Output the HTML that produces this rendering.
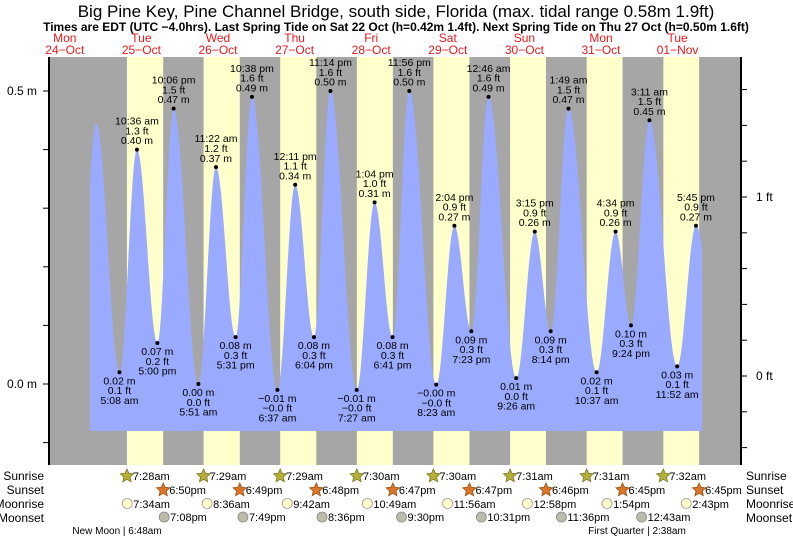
<!DOCTYPE html>
<html><head><meta charset="utf-8"><style>
html,body{margin:0;padding:0;background:#fff}
svg{display:block;font-family:"Liberation Sans",Arial,sans-serif}
</style></head><body>
<svg id="chart" width="793" height="539" viewBox="0 0 793 539" xmlns="http://www.w3.org/2000/svg">
<text x="396" y="17" text-anchor="middle" font-size="17">Big Pine Key, Pine Channel Bridge, south side, Florida (max. tidal range 0.58m 1.9ft)</text>
<text x="396" y="31" text-anchor="middle" font-size="12" font-weight="bold">Times are EDT (UTC −4.0hrs). Last Spring Tide on Sat 22 Oct (h=0.42m 1.4ft). Next Spring Tide on Thu 27 Oct (h=0.50m 1.6ft)</text>
<g id="days"></g>
<g id="plot"></g>
<g id="labels"></g>
<g id="bottom"></g>
</svg>
<script>
// ---- data ----
const dayNames = ["Mon","Tue","Wed","Thu","Fri","Sat","Sun","Mon","Tue"];
const dayDates = ["24\u2212Oct","25\u2212Oct","26\u2212Oct","27\u2212Oct","28\u2212Oct","29\u2212Oct","30\u2212Oct","31\u2212Oct","01\u2212Nov"];
// tide extremes: day offset from Oct 25, time label, height m, ft label
const tideDay = [-1,-1,0,0,0,0,1,1,1,1,2,2,2,2,3,3,3,3,4,4,4,5,5,5,5,6,6,6,6,7,7,7,7];
const tideTime = ["4:20 pm","9:50 pm","5:08 am","10:36 am","5:00 pm","10:06 pm","5:51 am","11:22 am","5:31 pm","10:38 pm","6:37 am","12:11 pm","6:04 pm","11:14 pm","7:27 am","1:04 pm","6:41 pm","11:56 pm","8:23 am","2:04 pm","7:23 pm","12:46 am","9:26 am","3:15 pm","8:14 pm","1:49 am","10:37 am","4:34 pm","9:24 pm","3:11 am","11:52 am","5:45 pm","11:59 pm"];
const tideHeight = [0.06,0.445,0.02,0.40,0.07,0.47,0.00,0.37,0.08,0.49,-0.01,0.34,0.08,0.50,-0.01,0.31,0.08,0.50,-0.001,0.27,0.09,0.49,0.01,0.26,0.09,0.47,0.02,0.26,0.10,0.45,0.03,0.27,0.10];
const tideM = ["","","0.02 m","0.40 m","0.07 m","0.47 m","0.00 m","0.37 m","0.08 m","0.49 m","\u22120.01 m","0.34 m","0.08 m","0.50 m","\u22120.01 m","0.31 m","0.08 m","0.50 m","\u22120.00 m","0.27 m","0.09 m","0.49 m","0.01 m","0.26 m","0.09 m","0.47 m","0.02 m","0.26 m","0.10 m","0.45 m","0.03 m","0.27 m",""];
const tideFt = ["","","0.1 ft","1.3 ft","0.2 ft","1.5 ft","0.0 ft","1.2 ft","0.3 ft","1.6 ft","\u22120.0 ft","1.1 ft","0.3 ft","1.6 ft","\u22120.0 ft","1.0 ft","0.3 ft","1.6 ft","\u22120.0 ft","0.9 ft","0.3 ft","1.6 ft","0.0 ft","0.9 ft","0.3 ft","1.5 ft","0.1 ft","0.9 ft","0.3 ft","1.5 ft","0.1 ft","0.9 ft",""];
const sunrise = ["7:28am","7:29am","7:29am","7:30am","7:30am","7:31am","7:31am","7:32am"];
const sunset = ["6:50pm","6:49pm","6:48pm","6:47pm","6:47pm","6:46pm","6:45pm","6:45pm"];
const moonrise = ["7:34am","8:36am","9:42am","10:49am","11:56am","12:58pm","1:54pm","2:43pm"];
const moonsetDay = [0,1,2,3,4,5,7];
const moonset = ["7:08pm","7:49pm","8:36pm","9:30pm","10:31pm","11:36pm","12:43am"];
const yTicksM = [-0.1,0,0.1,0.2,0.3,0.4,0.5];
const yLabelsM = ["0.0 m","0.5 m"];
const yLabelValsM = [0,0.5];
const yTicksFt = [-0.4,-0.2,0,0.2,0.4,0.6,0.8,1.0,1.2,1.4,1.6];
const yLabelsFt = ["0 ft","1 ft"];
const yLabelValsFt = [0,1];

// ---- axes ----
const X0=103.1, DAY=76.6, PL=49, PR=741, PT=57, PB=465;
const xT = d => X0 + DAY*d;
const yM = m => 384 - 586*m;
const yFt = f => 376 - 179*f;
function hrs(s){const m=s.match(/(\d+):(\d+)\s*(am|pm)/);let h=+m[1]%12;if(m[3]=="pm")h+=12;return h+(+m[2])/60;}
const NS="http://www.w3.org/2000/svg";
function mk(tag,attrs,parent,txt){const e=document.createElementNS(NS,tag);for(const k in attrs)e.setAttribute(k,attrs[k]);if(txt!==undefined)e.textContent=txt;parent.appendChild(e);return e;}
const gDays=document.getElementById('days'),gPlot=document.getElementById('plot'),gLab=document.getElementById('labels'),gBot=document.getElementById('bottom');

// background
let bg=mk('rect',{x:PL,y:PT,width:PR-PL,height:PB-PT,fill:'#a6a6a6'},gPlot);


for(let i=0;i<sunrise.length;i++){
  const x1=xT(i+hrs(sunrise[i])/24), x2=xT(i+hrs(sunset[i])/24);
  const r=mk('rect',{x:x1,y:PT,width:x2-x1,height:PB-PT,fill:'#ffffcc'},gPlot);
  
  
}
// day headers
for(let i=0;i<dayNames.length;i++){
  const cx=xT(i-1+0.5);
  const t1=mk('text',{x:cx,y:42,'text-anchor':'middle','font-size':12,fill:'#e8191b'},gDays,dayNames[i]);
  
  
  const t2=mk('text',{x:cx,y:54,'text-anchor':'middle','font-size':12,fill:'#e8191b'},gDays,dayDates[i]);
  
  
}
// tide curve
const tt=tideTime.map((s,i)=>tideDay[i]+hrs(s)/24);
function level(d){for(let i=0;i<tt.length-1;i++){if(d>=tt[i]&&d<=tt[i+1]){const f=(d-tt[i])/(tt[i+1]-tt[i]);return tideHeight[i]+(tideHeight[i+1]-tideHeight[i])*(1-Math.cos(Math.PI*f))/2;}}return tideHeight[tideHeight.length-1];}
const BX0=90,BX1=702,BY=431;
let p=`M${BX0},${BY}`;
for(let x=BX0;x<=BX1;x+=0.5){p+=` L${x},${yM(level((x-X0)/DAY)).toFixed(2)}`;}
p+=` L${BX1},${BY} Z`;
const area=mk('path',{d:p,fill:'#9aaaff'},gPlot);


// axes
const la=mk('line',{x1:PL,y1:PT,x2:PL,y2:PB,stroke:'#000','stroke-width':2},gPlot);


const ra=mk('line',{x1:PR,y1:PT,x2:PR,y2:PB,stroke:'#000','stroke-width':2},gPlot);


yTicksM.forEach(v=>{const t=mk('line',{x1:43,x2:PL,y1:yM(v),y2:yM(v),stroke:'#000'},gPlot);
  
  });
yLabelsM.forEach((s,i)=>{const t=mk('text',{x:37,y:yM(yLabelValsM[i])+4,'text-anchor':'end','font-size':12},gPlot,s);
  
  });
yTicksFt.forEach(v=>{const t=mk('line',{x1:PR,x2:PR+6,y1:yFt(v),y2:yFt(v),stroke:'#000'},gPlot);
  
  });
yLabelsFt.forEach((s,i)=>{const t=mk('text',{x:756,y:yFt(yLabelValsFt[i])+4,'font-size':12},gPlot,s);
  
  });
// extreme labels
for(let i=0;i<tt.length;i++){
  if(!tideM[i])continue;
  const x=xT(tt[i]),y=yM(tideHeight[i]);
  const hi=tideHeight[i]>0.2;
  const dot=mk('circle',{cx:x,cy:y,r:2,fill:'#000'},gLab);
  
  
  const lines=hi?[tideTime[i],tideFt[i],tideM[i]]:[tideM[i],tideFt[i],tideTime[i]];
  const base=hi?y-25:y+12;
  lines.forEach((s,k)=>{const t=mk('text',{x:x,y:base+k*9.8,'text-anchor':'middle','font-size':10.5},gLab,s);
    
    });
}
// bottom rows
const rows=[["Sunrise",480],["Sunset",494],["Moonrise",508],["Moonset",522]];
rows.forEach(r=>{
  const a=mk('text',{x:44,y:r[1],'text-anchor':'end','font-size':12},gBot,r[0]);
  
  
  const b=mk('text',{x:746,y:r[1],'font-size':12},gBot,r[0]);
  
  
});
function star(cx,cy,fill,stroke){let pts=[];for(let k=0;k<10;k++){const a=-Math.PI/2+k*Math.PI/5,rr=k%2?3.3:7;pts.push((cx+rr*Math.cos(a)).toFixed(1)+','+(cy+rr*Math.sin(a)).toFixed(1));}return mk('polygon',{points:pts.join(' '),fill:fill,stroke:stroke,'stroke-width':0.8},gBot);}
sunrise.forEach((s,i)=>{const x=xT(i+hrs(s)/24);
  const st=star(x,476,'#b5b03a','#7a7520');
  
  
  const t=mk('text',{x:x+6,y:480,'font-size':11},gBot,s);
  
  });
sunset.forEach((s,i)=>{const x=xT(i+hrs(s)/24);
  const st=star(x,490,'#d9762a','#9a5010');
  
  
  const t=mk('text',{x:x+6,y:494,'font-size':11},gBot,s);
  
  });
moonrise.forEach((s,i)=>{const x=xT(i+hrs(s)/24);
  const c=mk('circle',{cx:x,cy:503.5,r:5,fill:'#ffffcc',stroke:'#999','stroke-width':0.8},gBot);
  
  
  const t=mk('text',{x:x+6,y:508,'font-size':11},gBot,s);
  
  });
moonset.forEach((s,i)=>{const x=xT(moonsetDay[i]+hrs(s)/24);
  const c=mk('circle',{cx:x,cy:517,r:5,fill:'#bcbcaa',stroke:'#888','stroke-width':0.8},gBot);
  
  
  const t=mk('text',{x:x+6,y:521,'font-size':11},gBot,s);
  
  });
const nm=mk('text',{x:117,y:534,'text-anchor':'middle','font-size':10},gBot,"New Moon | 6:48am");


const fq=mk('text',{x:637,y:534,'text-anchor':'middle','font-size':10},gBot,"First Quarter | 2:38am");


</script>
</body></html>
